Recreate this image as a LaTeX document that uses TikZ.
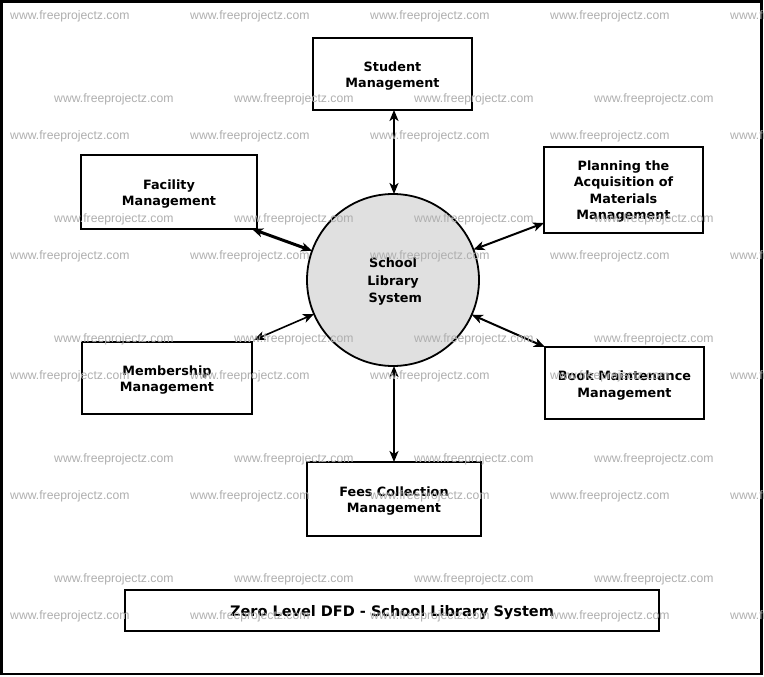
\documentclass[tikz,border=0pt]{standalone}
\usepackage{fontspec}
\setmainfont{DejaVu Sans}
\newfontfamily\wmfont{Liberation Sans}
\usetikzlibrary{arrows.meta}
\definecolor{circfill}{RGB}{224,224,224}
\definecolor{wmgray}{RGB}{175,175,175}
\tikzset{
  procbox/.style={draw=black, line width=2pt, fill=white, inner sep=0pt, outer sep=0pt},
  proctext/.style={inner sep=0pt, align=center, font=\bfseries\fontsize{12.8}{16.4}\selectfont},
  proccirc/.style={draw=black, line width=1.8pt, fill=circfill, circle, minimum size=172pt,
    inner sep=0pt, outer sep=0pt},
  flow/.style={line width=2pt, {Stealth[length=11pt,width=9pt,inset=3pt]}-{Stealth[length=11pt,width=9pt,inset=3pt]}},
  wmark/.style={anchor=west, inner sep=0pt, text=wmgray, font=\wmfont\fontsize{12.2}{12.2}\selectfont},
}
\begin{document}
\begin{tikzpicture}[x=1pt, y=-1pt]
\useasboundingbox (0,0) rectangle (764,677);
\clip (0,0) rectangle (764,677);
\fill[white] (0,0) rectangle (764,677);
\draw[line width=2.5pt] (1.5,1.5) rectangle (761.5,674);

\node[proccirc] (circ) at (393,280) {};
\node[proctext, font=\bfseries\fontsize{12.8}{17.5}\selectfont] (circ-t) at ([yshift=-2pt]circ.center) {School\\Library\\\hspace*{0.35em}System};

\node[procbox, minimum width=159pt, minimum height=72pt] (stu) at (392.5,74) {};
\node[proctext] (stu-t) at ([yshift=-2pt]stu.center) {Student\\Management};
\node[procbox, minimum width=159pt, minimum height=86pt] (pla) at (623.5,190) {};
\node[proctext] (pla-t) at ([yshift=-1.5pt]pla.center) {Planning the\\Acquisition of\\Materials\\Management};
\node[procbox, minimum width=176pt, minimum height=74pt] (fac) at (169,192) {};
\node[proctext] (fac-t) at ([yshift=-2pt]fac.center) {Facility\\Management};
\node[procbox, minimum width=170pt, minimum height=72pt] (mem) at (167,378) {};
\node[proctext] (mem-t) at ([yshift=-2pt]mem.center) {Membership\\Management};
\node[procbox, minimum width=159pt, minimum height=72pt] (boo) at (624.5,383) {};
\node[proctext] (boo-t) at ([yshift=-2.5pt]boo.center) {Book Maintenance\\Management};
\node[procbox, minimum width=174pt, minimum height=74pt] (fee) at (394,499) {};
\node[proctext] (fee-t) at ([yshift=-2pt]fee.center) {Fees Collection\\Management};
\node[procbox, minimum width=534pt, minimum height=41pt] (title) at (392,610.5) {};
\node[proctext, font=\bfseries\fontsize{14.5}{16}\selectfont] (title-t) at ([yshift=-2pt]title.center) {Zero Level DFD - School Library System};

\draw[flow] ([xshift=1.5pt]stu.south) -- ([xshift=1pt]circ.north);
\draw[flow] ([yshift=10pt]pla.south west) -- (circ);
\draw[flow, line width=3pt] ([xshift=-5pt]fac.south east) -- (circ);
\draw[flow, line width=1.6pt] ([xshift=2pt,yshift=2pt]mem.north east) -- (circ);
\draw[flow] (circ) -- (boo.north west);
\draw[flow] (fee.north) -- ([xshift=1pt]circ.south);

\foreach \yy in {16,136,256,376,496,616} {
  \foreach \xx in {10,190,370,550,730} {
    \node[wmark] (wa-\xx-\yy) at (\xx,\yy) {www.freeprojectz.com};
  }
}
\foreach \yy in {99,219,339,459,579} {
  \foreach \xx in {54,234,414,594} {
    \node[wmark] (wb-\xx-\yy) at (\xx,\yy) {www.freeprojectz.com};
  }
}
\end{tikzpicture}
\end{document}
